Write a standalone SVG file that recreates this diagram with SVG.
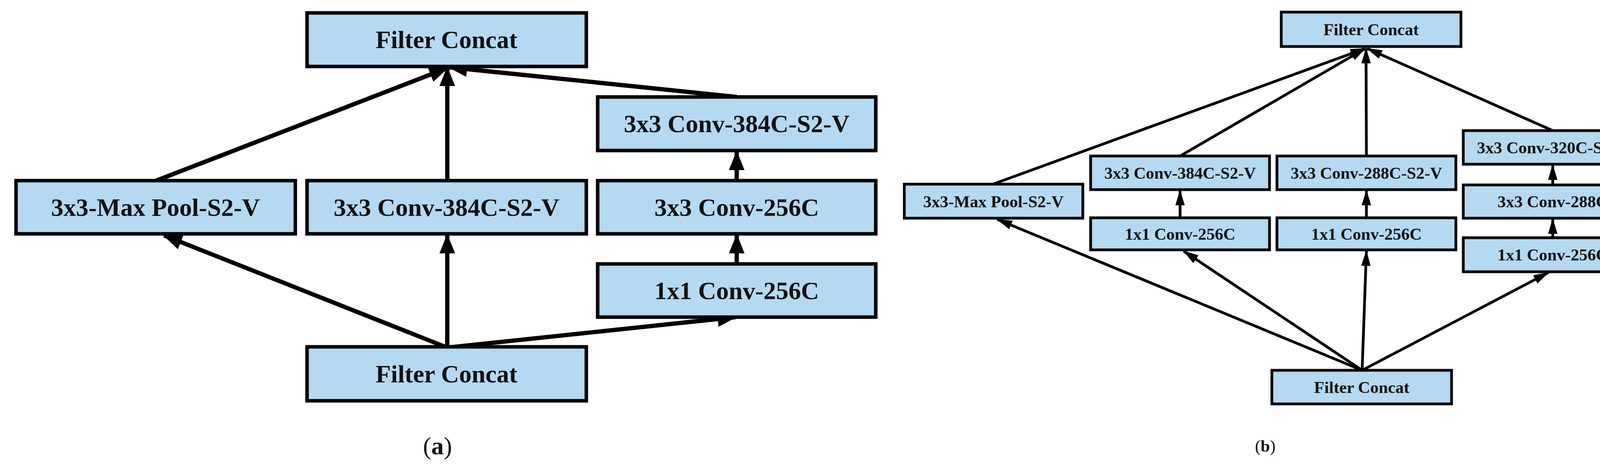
<svg xmlns="http://www.w3.org/2000/svg" width="4249" height="1202" viewBox="0 0 4249 1202">
<style>
.box{fill:#b5d9f0;stroke:#000;}
.a .box{stroke-width:9}
.b .box{stroke-width:7}
text{font-family:"Liberation Serif","Times New Roman",serif;font-weight:bold;text-anchor:middle;dominant-baseline:central;fill:#111}
.a text{font-size:64px}
.b text{font-size:43px}
.ca line{stroke:#000;stroke-width:11;marker-end:url(#ha)}
.cb line{stroke:#000;stroke-width:7;marker-end:url(#hb)}
.cap{font-size:64px;font-weight:normal}
</style>
<defs>
<marker id="ha" markerUnits="userSpaceOnUse" markerWidth="50" markerHeight="50" viewBox="0 0 50 50" refX="46" refY="25" orient="auto"><path d="M0,5 L50,25 L0,45 Z" fill="#000"/></marker>
<marker id="hb" markerUnits="userSpaceOnUse" markerWidth="40" markerHeight="30" viewBox="0 0 40 30" refX="38" refY="15" orient="auto"><path d="M0,3 L40,15 L0,27 Z" fill="#000"/></marker>
</defs>
<rect width="4249" height="1202" fill="#fff"/>
<g class="ca">
<line x1="400" y1="462" x2="1145" y2="174"/>
<line x1="1145" y1="462" x2="1145" y2="174"/>
<line x1="1886" y1="248" x2="1150" y2="172"/>
<line x1="1886" y1="462" x2="1886" y2="389"/>
<line x1="1886" y1="675" x2="1886" y2="602"/>
<line x1="1145" y1="889" x2="420" y2="602"/>
<line x1="1145" y1="889" x2="1145" y2="602"/>
<line x1="1145" y1="889" x2="1883" y2="811"/>
</g>
<g class="a">
<g id="a-top"><rect class="box" x="786" y="33" width="715" height="137"/><text x="1143" y="101">Filter Concat</text></g>
<g id="a-pool"><rect class="box" x="41" y="462" width="715" height="136"/><text x="398" y="530">3x3-Max Pool-S2-V</text></g>
<g id="a-conv384"><rect class="box" x="786" y="462" width="715" height="136"/><text x="1143" y="530">3x3 Conv-384C-S2-V</text></g>
<g id="a-r1"><rect class="box" x="1530" y="248" width="712" height="137"/><text x="1886" y="316">3x3 Conv-384C-S2-V</text></g>
<g id="a-r2"><rect class="box" x="1530" y="462" width="712" height="136"/><text x="1886" y="530">3x3 Conv-256C</text></g>
<g id="a-r3"><rect class="box" x="1530" y="675" width="712" height="136"/><text x="1886" y="743">1x1 Conv-256C</text></g>
<g id="a-bot"><rect class="box" x="786" y="887" width="715" height="138"/><text x="1143" y="956">Filter Concat</text></g>
<text class="cap" x="1120" y="1140">(<tspan font-weight="bold">a</tspan>)</text>
</g>
<g class="cb">
<line x1="2542" y1="471" x2="3495" y2="124"/>
<line x1="3021" y1="399" x2="3495" y2="124"/>
<line x1="3498" y1="399" x2="3497" y2="124"/>
<line x1="3975" y1="334" x2="3500" y2="124"/>
<line x1="3021" y1="557" x2="3021" y2="487"/>
<line x1="3498" y1="557" x2="3498" y2="487"/>
<line x1="3975" y1="473" x2="3975" y2="422"/>
<line x1="3975" y1="608" x2="3975" y2="560"/>
<line x1="3487" y1="947" x2="2553" y2="561"/>
<line x1="3487" y1="947" x2="3030" y2="642"/>
<line x1="3487" y1="947" x2="3498" y2="642"/>
<line x1="3487" y1="947" x2="3964" y2="697"/>
</g>
<g class="b">
<g id="b-top"><rect class="box" x="3280" y="31" width="460" height="88"/><text x="3510" y="75">Filter Concat</text></g>
<g id="b-pool"><rect class="box" x="2315" y="471" width="457" height="87"/><text x="2543" y="515">3x3-Max Pool-S2-V</text></g>
<g id="b-c2a"><rect class="box" x="2792" y="399" width="458" height="86"/><text x="3021" y="442">3x3 Conv-384C-S2-V</text></g>
<g id="b-c2b"><rect class="box" x="2792" y="557" width="458" height="82"/><text x="3021" y="598">1x1 Conv-256C</text></g>
<g id="b-c3a"><rect class="box" x="3269" y="399" width="458" height="86"/><text x="3498" y="442">3x3 Conv-288C-S2-V</text></g>
<g id="b-c3b"><rect class="box" x="3269" y="557" width="458" height="82"/><text x="3498" y="598">1x1 Conv-256C</text></g>
<g id="b-c4a"><rect class="box" x="3746" y="334" width="458" height="86"/><text x="3975" y="377">3x3 Conv-320C-S2-V</text></g>
<g id="b-c4b"><rect class="box" x="3746" y="473" width="458" height="85"/><text x="3975" y="515">3x3 Conv-288C</text></g>
<g id="b-c4c"><rect class="box" x="3746" y="608" width="458" height="87"/><text x="3975" y="651">1x1 Conv-256C</text></g>
<g id="b-bot"><rect class="box" x="3256" y="947" width="460" height="86"/><text x="3486" y="990">Filter Concat</text></g>
<text class="cap" x="3239" y="1140">(<tspan font-weight="bold">b</tspan>)</text>
</g>
</svg>
